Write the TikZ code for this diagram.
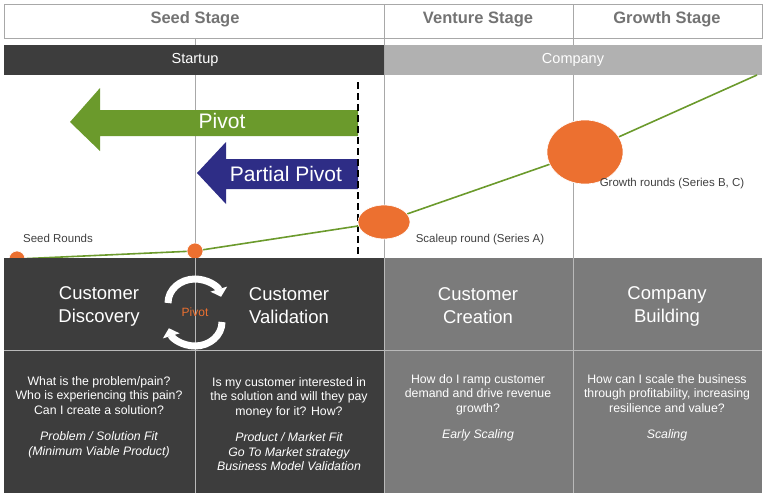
\documentclass[tikz,border=0pt]{standalone}
\usepackage{fontspec}
\setmainfont{Liberation Sans}
\usetikzlibrary{positioning, arrows.meta}
\definecolor{startupgray}{HTML}{3D3D3D}
\definecolor{companygray}{HTML}{B1B1B1}
\definecolor{lowergray}{HTML}{7B7B7B}
\definecolor{pivotgreen}{HTML}{6B9A2C}
\definecolor{pivotnavy}{HTML}{2E2D86}
\definecolor{roundorange}{HTML}{EC7030}
\definecolor{linegray}{HTML}{A8A8A8}

\tikzset{
  stage/.style={font=\bfseries\fontsize{16.5}{19}\selectfont, text=gray!90!black},
  phase/.style={font=\fontsize{18.5}{23}\selectfont, text=white, align=center},
  question/.style={font=\fontsize{12.3}{14.5}\selectfont, text=white, align=center},
  roundlabel/.style={font=\fontsize{11.5}{13}\selectfont, text=black!75},
  fund/.style={fill=roundorange, draw=white, line width=0.6pt}
}

\begin{document}
\begin{tikzpicture}[x=1pt, y=-1pt]
\useasboundingbox (0,0) rectangle (768,499);

% stage header
\draw[linegray] (4,4) rectangle (762,38);
\foreach \x in {384,573} \draw[linegray] (\x,4) -- (\x,258);
\draw[linegray] (195,38) -- (195,258);
\node[stage] (seed) at (195,19) {Seed Stage};
\node[stage] (venture) at (478,19) {Venture Stage};
\node[stage] (growth) at (667,19) {Growth Stage};

% startup / company bars
\fill[startupgray] (4,45) rectangle (384,75);
\fill[companygray] (385,45) rectangle (762,75);
\node[text=white, font=\fontsize{14.5}{17}\selectfont] (startup) at (195,60) {Startup};
\node[text=white, font=\fontsize{14.5}{17}\selectfont] (company) at (573,60) {Company};

% pivot arrows
\fill[pivotgreen] (358,110) -- (100,110) -- (100,88) -- (70,122) -- (100,151) -- (100,136) -- (358,136) -- cycle;
\node[text=white, font=\fontsize{21}{24}\selectfont] (pivot) at (222,121) {Pivot};
\fill[pivotnavy] (358,159) -- (226,159) -- (226,142) -- (197,173) -- (226,204) -- (226,189) -- (358,189) -- cycle;
\node[text=white, font=\fontsize{21}{24}\selectfont] (partial) at (286,174) {Partial Pivot};
\draw[line width=1.6pt, dash pattern=on 7pt off 4pt] (358,82) -- (358,258);

% growth curve
\coordinate (r0) at (17,259);
\coordinate (r1) at (195,251);
\coordinate (r2) at (384,222);
\coordinate (r3) at (585,152);
\coordinate (r4) at (757,75);
\draw[pivotgreen, line width=1.6pt] (r0) -- (r1) -- (r2) -- (r3) -- (r4);
\fill[fund] (r0) circle (8);
\fill[fund] (r1) circle (8);
\fill[fund] (r2) ellipse (26 and 17);
\fill[fund] (r3) ellipse (38 and 32);
\node[roundlabel] (seedrounds) at (58,238) {Seed Rounds};
\node[roundlabel] (seriesa) at (480,240) {Scaleup round (Series A)};
\node[roundlabel] (seriesbc) at (672,184) {Growth rounds (Series B, C)};

% lower panels
\fill[startupgray] (4,258) rectangle (384,493);
\fill[lowergray] (385,258) rectangle (762,493);
\draw[linegray!80] (4,350) -- (762,350);
\foreach \x in {195,384,573} \draw[linegray!80] (\x,258) -- (\x,493);

\node[phase] (discovery) at (99,306) {Customer\\Discovery};
\node[phase] (validation) at (289,306) {Customer\\Validation};
\node[phase] (creation) at (478,306) {Customer\\Creation};
\node[phase] (building) at (667,306) {Company\\Building};

% pivot cycle
\draw[white, line width=7pt, -{Triangle[length=8pt, width=17pt]}] (168,303) arc (180:345:27 and 24);
\draw[white, line width=7pt, -{Triangle[length=8pt, width=17pt]}] (222,322) arc (0:165:27 and 24);
\node[text=roundorange, font=\fontsize{12}{14}\selectfont] (cycle) at (195,312) {Pivot};

\node[question] (q1) at (99,417) {What is the problem/pain?\\Who is experiencing this pain?\\Can I create a solution?\\[12pt]\itshape Problem / Solution Fit\\\itshape (Minimum Viable Product)};
\node[question] (q2) at (289,424) {Is my customer interested in\\the solution and will they pay\\money for it? How?\\[12pt]\itshape Product / Market Fit\\\itshape Go To Market strategy\\\itshape Business Model Validation};
\node[question] (q3) at (478,408) {How do I ramp customer\\demand and drive revenue\\growth?\\[12pt]\itshape Early Scaling};
\node[question] (q4) at (667,408) {How can I scale the business\\through profitability, increasing\\resilience and value?\\[12pt]\itshape Scaling};
\end{tikzpicture}
\end{document}
